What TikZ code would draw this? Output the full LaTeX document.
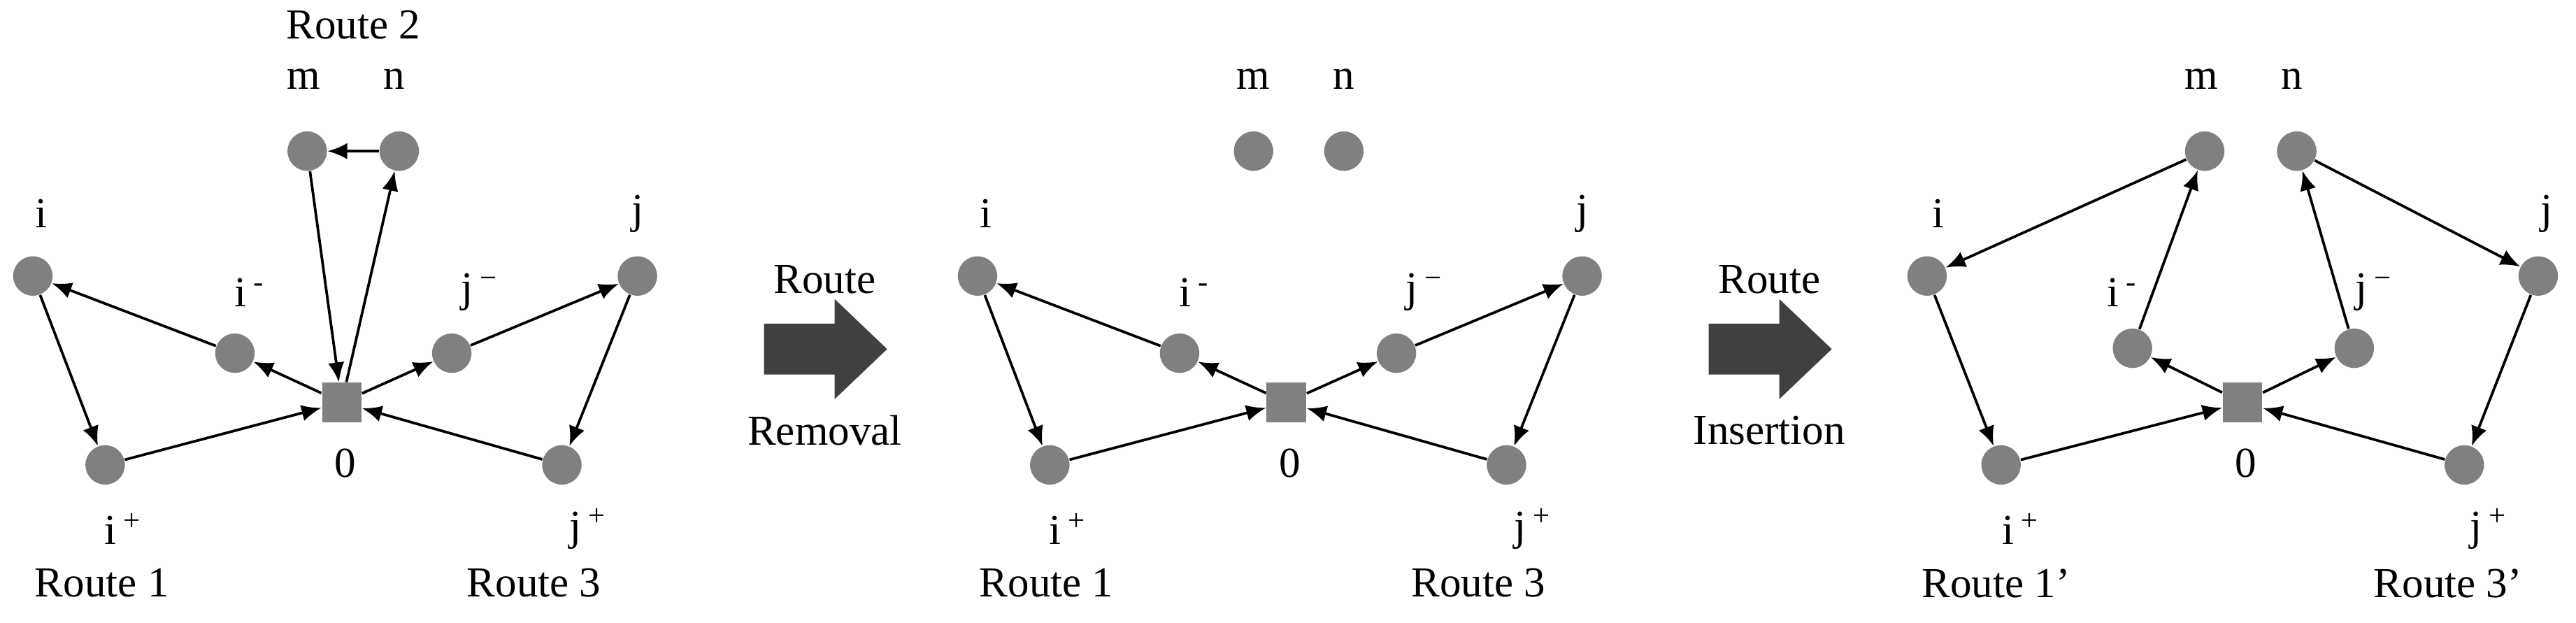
\documentclass[tikz,border=0pt]{standalone}
\usepackage{fontspec}
\setmainfont{Liberation Serif}
\usetikzlibrary{arrows.meta}
\begin{document}
\begin{tikzpicture}[x=0.5pt,y=-0.5pt,
  cust/.style={circle,fill=black!50,minimum size=12pt,inner sep=0pt},
  depot/.style={rectangle,fill=black!50,minimum size=12pt,inner sep=0pt},
  lab/.style={font=\fontsize{13}{15}\selectfont,inner sep=0pt},
  e/.style={-{Latex[length=6pt,width=5pt]},line width=0.8pt,shorten >=0pt},
  bigarrow/.style={fill=black!75,draw=none}]
\useasboundingbox (0,0) rectangle (1568,379);
% ---------- Panel 1
\node[cust] (i1) at (20,168) {};
\node[cust] (im1) at (143,215) {};
\node[depot] (o1) at (208,245) {};
\node[cust] (jm1) at (275,215) {};
\node[cust] (j1) at (388,168) {};
\node[cust] (ip1) at (64,283) {};
\node[cust] (jp1) at (342,283) {};
\node[cust] (m1) at (187,92) {};
\node[cust] (n1) at (243,92) {};
\node[lab] (lr2) at (215,15) {Route 2};
\node[lab] (lm1) at (185,48) {m};
\node[lab] (ln1) at (240,48) {n};
\node[lab] (li1) at (25,130) {i};
\node[lab] (lim1) at (152,178) {i\,\textsuperscript{-}};
\node[lab] (ljm1) at (292,178) {j\,\textsuperscript{−}};
\node[lab] (lj1) at (388,130) {j};
\node[lab] (lo1) at (210,282) {0};
\node[lab] (lip1) at (75,322) {i\,\textsuperscript{+}};
\node[lab] (ljp1) at (358,322) {j\,\textsuperscript{+}};
\node[lab] (lr11) at (62,355) {Route 1};
\node[lab] (lr31) at (325,355) {Route 3};
\draw[e] (i1) -- (ip1);
\draw[e] (ip1) -- (o1);
\draw[e] (o1) -- (im1);
\draw[e] (im1) -- (i1);
\draw[e] (m1) -- (o1);
\draw[e] (o1) -- (n1);
\draw[e] (n1) -- (m1);
\draw[e] (o1) -- (jm1);
\draw[e] (jm1) -- (j1);
\draw[e] (j1) -- (jp1);
\draw[e] (jp1) -- (o1);
% arrow 1
\fill[bigarrow] (465,197) -- (508,197) -- (508,182) -- (540,212.5) -- (508,243) -- (508,228) -- (465,228) -- cycle;
\node[lab] (la1) at (502,170) {Route};
\node[lab] (lb1) at (502,262) {Removal};
% ---------- Panel 2
\begin{scope}[xshift=287.5pt]
\node[cust] (i2) at (20,168) {};
\node[cust] (im2) at (143,215) {};
\node[depot] (o2) at (208,245) {};
\node[cust] (jm2) at (275,215) {};
\node[cust] (j2) at (388,168) {};
\node[cust] (ip2) at (64,283) {};
\node[cust] (jp2) at (342,283) {};
\node[cust] (m2) at (188,92) {};
\node[cust] (n2) at (243,92) {};
\node[lab] (lm2) at (188,48) {m};
\node[lab] (ln2) at (243,48) {n};
\node[lab] (li2) at (25,130) {i};
\node[lab] (lim2) at (152,178) {i\,\textsuperscript{-}};
\node[lab] (ljm2) at (292,178) {j\,\textsuperscript{−}};
\node[lab] (lj2) at (388,130) {j};
\node[lab] (lo2) at (210,282) {0};
\node[lab] (lip2) at (75,322) {i\,\textsuperscript{+}};
\node[lab] (ljp2) at (358,322) {j\,\textsuperscript{+}};
\node[lab] (lr12) at (62,355) {Route 1};
\node[lab] (lr32) at (325,355) {Route 3};
\draw[e] (i2) -- (ip2);
\draw[e] (ip2) -- (o2);
\draw[e] (o2) -- (im2);
\draw[e] (im2) -- (i2);
\draw[e] (o2) -- (jm2);
\draw[e] (jm2) -- (j2);
\draw[e] (j2) -- (jp2);
\draw[e] (jp2) -- (o2);
\fill[bigarrow] (465,197) -- (508,197) -- (508,182) -- (540,212.5) -- (508,243) -- (508,228) -- (465,228) -- cycle;
\node[lab] (la2) at (502,170) {Route};
\node[lab] (lb2) at (502,262) {Insertion};
\end{scope}
% ---------- Panel 3
\begin{scope}[xshift=576.5pt]
\node[cust] (i3) at (20,168) {};
\node[cust] (im3) at (145,212) {};
\node[depot] (o3) at (212,245) {};
\node[cust] (jm3) at (280,212) {};
\node[cust] (j3) at (392,168) {};
\node[cust] (ip3) at (65,283) {};
\node[cust] (jp3) at (347,283) {};
\node[cust] (m3) at (189,92) {};
\node[cust] (n3) at (245,92) {};
\node[lab] (lm3) at (187,48) {m};
\node[lab] (ln3) at (242,48) {n};
\node[lab] (li3) at (27,130) {i};
\node[lab] (lim3) at (139,178) {i\,\textsuperscript{-}};
\node[lab] (ljm3) at (292,178) {j\,\textsuperscript{−}};
\node[lab] (lj3) at (397,130) {j};
\node[lab] (lo3) at (214,282) {0};
\node[lab] (lip3) at (77,322) {i\,\textsuperscript{+}};
\node[lab] (ljp3) at (362,322) {j\,\textsuperscript{+}};
\node[lab] (lr13) at (62,355) {Route 1’};
\node[lab] (lr33) at (337,355) {Route 3’};
\draw[e] (i3) -- (ip3);
\draw[e] (ip3) -- (o3);
\draw[e] (o3) -- (im3);
\draw[e] (im3) -- (m3);
\draw[e] (m3) -- (i3);
\draw[e] (o3) -- (jm3);
\draw[e] (jm3) -- (n3);
\draw[e] (n3) -- (j3);
\draw[e] (j3) -- (jp3);
\draw[e] (jp3) -- (o3);
\end{scope}
\end{tikzpicture}
\end{document}
